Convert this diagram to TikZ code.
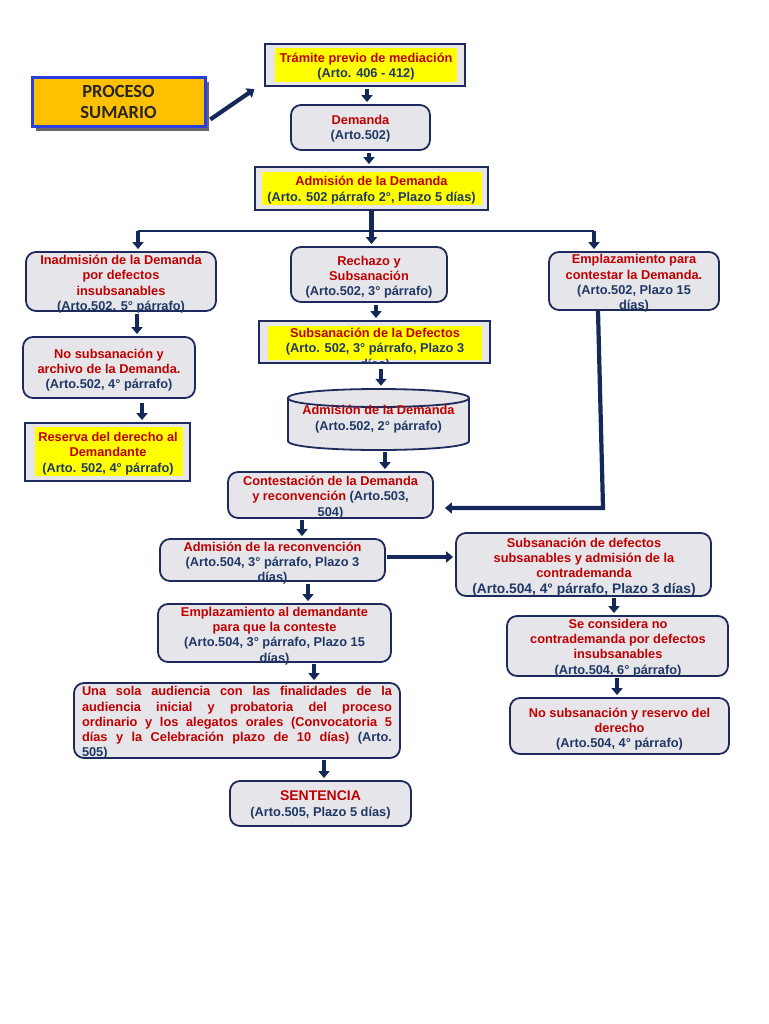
\documentclass[tikz,border=0pt]{standalone}
\usepackage{fontspec}
\setmainfont{Liberation Sans}
\newfontfamily\titlefont{Carlito}
\usetikzlibrary{arrows.meta,calc}
\definecolor{tred}{HTML}{C00000}
\definecolor{tnavy}{HTML}{1F3864}
\definecolor{anavy}{HTML}{14285A}
\definecolor{bnavy}{HTML}{1F2A5C}
\definecolor{boxgray}{HTML}{E6E6EA}
\definecolor{hlyellow}{HTML}{FFFF00}
\definecolor{torange}{HTML}{FFC000}
\definecolor{tblue}{HTML}{2B3FE0}
\newcommand\rd[1]{\textcolor{tred}{#1}}
\newcommand\nvy[1]{\textcolor{tnavy}{#1}}
\begin{document}
\begin{tikzpicture}[x=1pt,y=-1pt,
 rbox/.style={draw=bnavy, line width=1.8pt, fill=boxgray, rounded corners=10pt, inner sep=0pt},
 sbox/.style={draw=bnavy, line width=1.8pt, fill=boxgray, inner sep=0pt},
 txt/.style={align=center, text=tnavy, font=\bfseries\fontsize{12.8}{15.3}\selectfont, inner sep=0pt},
 arr/.style={draw=anavy, line width=4.2pt, -{Triangle[length=7pt,width=11pt]}, shorten <=2pt, shorten >=2pt},
 bline/.style={draw=anavy, line width=2pt}
]
\useasboundingbox[fill=white] (0,0) rectangle (768,1024);

% title
\fill[black!60] (36,82) rectangle (209,131);
\node[draw=tblue, line width=3pt, fill=torange, minimum width=173pt, minimum height=49pt,
  font=\titlefont\bfseries\fontsize{18.5}{21}\selectfont, align=center, inner sep=0pt, text=black!85] (title) at (118.5,102.5) {PROCESO\\SUMARIO};

% tramite
\node[sbox, minimum width=200pt, minimum height=42pt] (tramite) at (365,65) {};
\fill[hlyellow] (275,48) rectangle (457,82);
\node[txt] (tramiteT) at (366,66.5) {\rd{Trámite previo de mediación}\\(Arto. 406 - 412)};

% demanda
\node[rbox, minimum width=139pt, minimum height=45pt] (demanda) at (360.5,127.5) {};
\node[txt] (demandaT) at (360.5,128.5) {\rd{Demanda}\\(Arto.502)};

% admision 1
\node[sbox, minimum width=233pt, minimum height=43pt] (admision1) at (371.5,188.5) {};
\fill[hlyellow] (262,172) rectangle (482,205);
\node[txt] (admision1T) at (371.5,190) {\rd{Admisión de la Demanda}\\(Arto. 502 párrafo 2°, Plazo 5 días)};

% row 2
\node[rbox, minimum width=190pt, minimum height=59pt] (inadmision) at (121,281.5) {};
\node[txt] (inadmisionT) at (121,284) {\rd{Inadmisión de la Demanda}\\\rd{por defectos}\\\rd{insubsanables}\\(Arto.502. 5° párrafo)};

\node[rbox, minimum width=156pt, minimum height=55pt] (rechazo) at (369,274.5) {};
\node[txt] (rechazoT) at (369,277) {\rd{Rechazo y}\\\rd{Subsanación}\\(Arto.502, 3° párrafo)};

\node[rbox, minimum width=170pt, minimum height=58pt] (emplaz) at (634,281) {};
\node[txt] (emplazT) at (634,283.5) {\rd{Emplazamiento para}\\\rd{contestar la Demanda.}\\(Arto.502, Plazo 15\\días)};

% left column
\node[rbox, minimum width=172pt, minimum height=61pt] (nosubs) at (109,367.5) {};
\node[txt] (nosubsT) at (109,370) {\rd{No subsanación y}\\\rd{archivo de la Demanda.}\\(Arto.502, 4° párrafo)};

\node[sbox, minimum width=165pt, minimum height=58pt] (reserva) at (107.5,452) {};
\fill[hlyellow] (35,427) rectangle (183,476);
\node[txt] (reservaT) at (108,453.5) {\rd{Reserva del derecho al}\\\rd{Demandante}\\(Arto. 502, 4° párrafo)};

% subsanacion de la defectos
\node[sbox, minimum width=231pt, minimum height=42pt] (subdef) at (374.5,342) {};
\fill[hlyellow] (268,326) rectangle (482,360);
\begin{scope}
\clip (260,322) rectangle (489,362.5);
\node[txt, anchor=north] (subdefT) at (375,328) {\rd{Subsanación de la Defectos}\\(Arto. 502, 3° párrafo, Plazo 3\\días)};
\end{scope}

% cylinder
\node[minimum width=181pt, minimum height=62pt, inner sep=0pt] (adm2) at (378.5,419) {};
\filldraw[draw=bnavy, line width=1.8pt, fill=boxgray]
  (288,398) -- (288,441) .. controls (288,453) and (469,453) .. (469,441)
  -- (469,398) .. controls (469,386) and (288,386) .. (288,398) -- cycle;
\draw[draw=bnavy, line width=1.8pt] (288,398) .. controls (288,410) and (469,410) .. (469,398);
\node[txt] (adm2T) at (378.5,419) {\rd{Admisión de la Demanda}\\(Arto.502, 2° párrafo)};

% contestacion
\node[rbox, minimum width=205pt, minimum height=46pt] (contest) at (330.5,495) {};
\node[txt] (contestT) at (330.5,497.5) {\rd{Contestación de la Demanda}\\\rd{y reconvención} (Arto.503,\\504)};

% admision reconvencion
\node[rbox, minimum width=225pt, minimum height=42pt] (admrecon) at (272.5,560) {};
\node[txt] (admreconT) at (272.5,563) {\rd{Admisión de la reconvención}\\(Arto.504, 3° párrafo, Plazo 3\\días)};

% subsanables
\node[rbox, minimum width=255pt, minimum height=63pt] (subsanables) at (583.5,564.5) {};
\node[txt] (subsanablesT) at (584,567) {\rd{Subsanación de defectos}\\\rd{subsanables y admisión de la}\\\rd{contrademanda}\\{\fontsize{13.8}{15.3}\selectfont(Arto.504, 4° párrafo, Plazo 3 días)}};

% emplazamiento al demandante
\node[rbox, minimum width=233pt, minimum height=58pt] (emplazdem) at (274.5,633) {};
\node[txt] (emplazdemT) at (274.5,636) {\rd{Emplazamiento al demandante}\\\rd{para que la conteste}\\(Arto.504, 3° párrafo, Plazo 15\\días)};

% se considera
\node[rbox, minimum width=221pt, minimum height=60pt] (seconsidera) at (617.5,646) {};
\node[txt] (seconsideraT) at (618,648) {\rd{Se considera no}\\\rd{contrademanda por defectos}\\\rd{insubsanables}\\(Arto.504, 6° párrafo)};

% no subsanacion y reservo
\node[rbox, minimum width=219pt, minimum height=56pt] (nosubsres) at (619.5,726) {};
\node[txt] (nosubsresT) at (619.5,729) {\rd{No subsanación y reservo del}\\\rd{derecho}\\(Arto.504, 4° párrafo)};

% una sola audiencia
\node[rbox, minimum width=326pt, minimum height=75pt] (unasola) at (237,720.5) {};
\node[txt, text=tred, text width=310pt, align=justify] (unasolaT) at (237,723) {Una sola audiencia con las finalidades de la\linebreak audiencia inicial y probatoria del proceso\linebreak ordinario y los alegatos orales (Convocatoria 5\linebreak días y la Celebración plazo de 10 días) \nvy{(Arto.}\linebreak \nvy{505)}};

% sentencia
\node[rbox, minimum width=181pt, minimum height=45pt] (sentencia) at (320.5,803.5) {};
\node[txt] (sentenciaT) at (320.5,805) {{\fontsize{14}{16.5}\selectfont\rd{SENTENCIA}}\\(Arto.505, Plazo 5 días)};

% connectors
\draw[arr, shorten <=1pt] ([xshift=3pt,yshift=-17.5pt]title.east) -- ([xshift=-8pt,yshift=-23pt]tramite.west);
\draw[arr] ([xshift=2pt]tramite.south) -- ([xshift=2pt]tramite.south |- demanda.north);
\draw[arr] ([xshift=8.5pt]demanda.south) -- ([xshift=8.5pt]demanda.south |- admision1.north);
\coordinate (bl) at (138,231);
\coordinate (br) at (594,231);
\draw[bline] (bl) -- (br);
\draw[arr, shorten <=0pt] (admision1.south) -- (admision1.south |- rechazo.north);
\draw[arr, shorten <=0pt, line width=3.4pt] (bl) -- (bl |- inadmision.north);
\draw[arr, shorten <=0pt, line width=3.4pt] (br) -- (br |- emplaz.north);
\draw[arr] ([xshift=16pt]inadmision.south) -- ([xshift=16pt]inadmision.south |- nosubs.north);
\draw[arr, shorten <=4pt] ([xshift=33pt]nosubs.south) -- ([xshift=33pt]nosubs.south |- reserva.north);
\draw[arr] ([xshift=7pt]rechazo.south) -- ([xshift=7pt]rechazo.south |- subdef.north);
\draw[arr, shorten <=5pt] ([xshift=6.5pt]subdef.south) -- ([xshift=6.5pt]subdef.south |- adm2.north);
\draw[arr] ([xshift=6.5pt]adm2.south) -- ([xshift=6.5pt]adm2.south |- contest.north);
\draw[arr, shorten <=1pt] ([xshift=-28.5pt]contest.south) -- ([xshift=-28.5pt]contest.south |- admrecon.north);
\draw[arr] ([xshift=35.5pt]admrecon.south) -- ([xshift=35.5pt]admrecon.south |- emplazdem.north);
\draw[arr, shorten <=1pt] ([xshift=39.5pt]emplazdem.south) -- ([xshift=39.5pt]emplazdem.south |- unasola.north);
\draw[arr, shorten <=1pt] ([xshift=87pt]unasola.south) -- ([xshift=87pt]unasola.south |- sentencia.north);
\draw[arr, shorten <=1pt] ([xshift=30.5pt]subsanables.south) -- ([xshift=30.5pt]subsanables.south |- seconsidera.north);
\draw[arr, shorten <=1pt] ([xshift=-0.5pt]seconsidera.south) -- ([xshift=-0.5pt]seconsidera.south |- nosubsres.north);
\draw[arr, shorten <=1pt] ([yshift=3pt]admrecon.east) -- ([yshift=3pt]admrecon.east -| subsanables.west);
\coordinate (ec) at (603,508);
\draw[arr, shorten <=0pt, shorten >=0pt] ([xshift=-36pt]emplaz.south) -- (ec) -- ($(ec -| contest.east)+(11,0)$);
\end{tikzpicture}
\end{document}
